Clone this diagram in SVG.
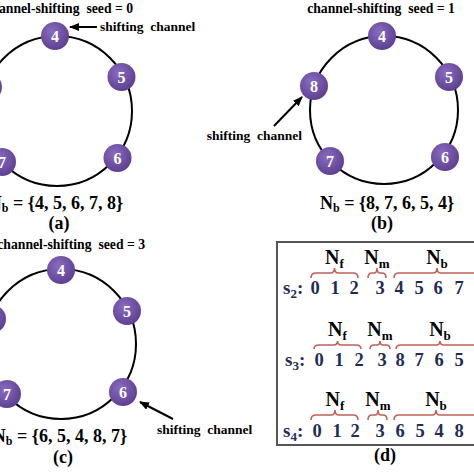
<svg xmlns="http://www.w3.org/2000/svg" width="474" height="474" viewBox="0 0 474 474">
<defs>
<radialGradient id="ng" cx="0.4" cy="0.35" r="0.7">
<stop offset="0" stop-color="#8a6cbe"/>
<stop offset="1" stop-color="#5a3d8e"/>
</radialGradient>
<marker id="ah" markerWidth="10" markerHeight="8" refX="9" refY="4" orient="auto" markerUnits="userSpaceOnUse">
<path d="M0,0 L10,4 L0,8 Z" fill="#000"/>
</marker>
</defs>
<style>
text{font-family:"Liberation Serif","Times New Roman",serif;font-weight:bold}
.ring{fill:none;stroke:#000;stroke-width:2}
.arr{stroke:#000;stroke-width:2;marker-end:url(#ah)}
.node circle{fill:url(#ng)}
.node text{fill:#fff;font-size:16px;text-anchor:middle}
.ttl{font-size:13.7px;fill:#000}
.sc{font-size:13.5px;fill:#000}
.nb{font-size:18px;fill:#000}
.lbl{font-size:18px;fill:#000;text-anchor:middle}
.dg{font-size:18.5px;fill:#1f2d55;text-anchor:middle}
.sl{font-size:19px;fill:#1f2d55}
.nl{font-size:20px;fill:#000;text-anchor:middle}
.br{fill:none;stroke:#c0605c;stroke-width:1.6}
.box{fill:#fff;stroke:#555;stroke-width:2}
</style>

<g id="connectors">
<circle class="ring" cx="57" cy="111" r="75"/>
<circle class="ring" cx="384" cy="110" r="74"/>
<circle class="ring" cx="61" cy="344" r="75"/>
<line class="arr" x1="97" y1="27" x2="70" y2="27"/>
<line class="arr" x1="274" y1="126" x2="302" y2="97"/>
<line class="arr" x1="173" y1="419" x2="140" y2="402"/>
</g>

<g id="panel-a">
<text class="ttl" x="133" y="13" text-anchor="end" xml:space="preserve">channel-shifting  seed = 0</text>
<g id="a-n4" class="node"><circle cx="55" cy="36" r="14"/><text x="55" y="42">4</text></g>
<g id="a-n5" class="node"><circle cx="121.5" cy="77" r="14"/><text x="121.5" y="83">5</text></g>
<g id="a-n6" class="node"><circle cx="117.5" cy="158" r="14"/><text x="117.5" y="164">6</text></g>
<g id="a-n7" class="node"><circle cx="2" cy="162" r="14"/><text x="2" y="168">7</text></g>
<g id="a-n8" class="node"><circle cx="-12" cy="87" r="14"/><text x="-12" y="93">8</text></g>
<text class="sc" x="100" y="31" xml:space="preserve">shifting  channel</text>
<text class="nb" x="123" y="209" text-anchor="end">N<tspan font-size="12" dy="3">b</tspan><tspan dy="-3"> = {4, 5, 6, 7, 8}</tspan></text>
<text class="lbl" x="59" y="229">(a)</text>
</g>

<g id="panel-b">
<text class="ttl" x="381" y="13" text-anchor="middle" xml:space="preserve">channel-shifting  seed = 1</text>
<g id="b-n4" class="node"><circle cx="382" cy="36" r="14"/><text x="382" y="42">4</text></g>
<g id="b-n5" class="node"><circle cx="449" cy="77" r="14"/><text x="449" y="83">5</text></g>
<g id="b-n6" class="node"><circle cx="445" cy="157" r="14"/><text x="445" y="163">6</text></g>
<g id="b-n7" class="node"><circle cx="330" cy="161" r="14"/><text x="330" y="167">7</text></g>
<g id="b-n8" class="node"><circle cx="314" cy="86" r="14"/><text x="314" y="92">8</text></g>
<text class="sc" x="302" y="140" text-anchor="end" xml:space="preserve">shifting  channel</text>
<text class="nb" x="320" y="209">N<tspan font-size="12" dy="3">b</tspan><tspan dy="-3"> = {8, 7, 6, 5, 4}</tspan></text>
<text class="lbl" x="382" y="229">(b)</text>
</g>

<g id="panel-c">
<text class="ttl" x="145" y="249" text-anchor="end" xml:space="preserve">channel-shifting  seed = 3</text>
<g id="c-n4" class="node"><circle cx="61" cy="270" r="14"/><text x="61" y="276">4</text></g>
<g id="c-n5" class="node"><circle cx="127" cy="311" r="14"/><text x="127" y="317">5</text></g>
<g id="c-n6" class="node"><circle cx="123" cy="392" r="14"/><text x="123" y="398">6</text></g>
<g id="c-n7" class="node"><circle cx="7" cy="394" r="14"/><text x="7" y="400">7</text></g>
<g id="c-n8" class="node"><circle cx="-8" cy="319" r="14"/><text x="-8" y="325">8</text></g>
<text class="sc" x="157" y="434" xml:space="preserve">shifting  channel</text>
<text class="nb" x="127" y="442" text-anchor="end">N<tspan font-size="12" dy="3">b</tspan><tspan dy="-3"> = {6, 5, 4, 8, 7}</tspan></text>
<text class="lbl" x="63" y="463">(c)</text>
</g>

<g id="panel-d">
<rect class="box" x="277" y="242" width="210" height="203"/>
<text class="nl" x="334.5" y="264">N<tspan font-size="13" dy="4">f</tspan></text>
<text class="nl" x="377" y="264">N<tspan font-size="13" dy="4">m</tspan></text>
<text class="nl" x="437" y="264">N<tspan font-size="13" dy="4">b</tspan></text>
<path class="br" d="M311,278 Q311,273 316,273 L330.5,273 Q334.5,273 334.5,268 Q334.5,273 338.5,273 L353,273 Q358,273 358,278"/>
<path class="br" d="M368,278 Q368,273 372,273 L374,273 Q377,273 377,268 Q377,273 380,273 L382,273 Q386,273 386,278"/>
<path class="br" d="M394,278 Q394,273 399,273 L433,273 Q437,273 437,268 Q437,273 441,273 L475,273 Q480,273 480,278"/>
<text class="sl" x="283" y="294">s<tspan font-size="13" dy="4">2</tspan><tspan dy="-4">:</tspan></text>
<text class="dg" y="294"><tspan x="315">0</tspan><tspan x="335">1</tspan><tspan x="354">2</tspan><tspan x="380">3</tspan><tspan x="399">4</tspan><tspan x="419">5</tspan><tspan x="438">6</tspan><tspan x="459">7</tspan></text>
<text class="nl" x="337.5" y="336">N<tspan font-size="13" dy="4">f</tspan></text>
<text class="nl" x="380" y="336">N<tspan font-size="13" dy="4">m</tspan></text>
<text class="nl" x="440" y="336">N<tspan font-size="13" dy="4">b</tspan></text>
<path class="br" d="M314,349 Q314,345 319,345 L333.5,345 Q337.5,345 337.5,341 Q337.5,345 341.5,345 L356,345 Q361,345 361,349"/>
<path class="br" d="M370,349 Q370,345 374,345 L377,345 Q380,345 380,341 Q380,345 383,345 L386,345 Q390,345 390,349"/>
<path class="br" d="M396,349 Q396,345 401,345 L436,345 Q440,345 440,341 Q440,345 444,345 L479,345 Q484,345 484,349"/>
<text class="sl" x="285" y="366">s<tspan font-size="13" dy="4">3</tspan><tspan dy="-4">:</tspan></text>
<text class="dg" y="366"><tspan x="319">0</tspan><tspan x="339">1</tspan><tspan x="359">2</tspan><tspan x="382">3</tspan><tspan x="400">8</tspan><tspan x="419">7</tspan><tspan x="439">6</tspan><tspan x="459">5</tspan></text>
<text class="nl" x="335" y="406">N<tspan font-size="13" dy="4">f</tspan></text>
<text class="nl" x="378" y="406">N<tspan font-size="13" dy="4">m</tspan></text>
<text class="nl" x="436" y="406">N<tspan font-size="13" dy="4">b</tspan></text>
<path class="br" d="M311,420 Q311,415 316,415 L331,415 Q335,415 335,410 Q335,415 339,415 L353,415 Q358,415 358,420"/>
<path class="br" d="M368,420 Q368,415 372,415 L375,415 Q378,415 378,410 Q378,415 381,415 L383,415 Q387,415 387,420"/>
<path class="br" d="M394,420 Q394,415 399,415 L432,415 Q436,415 436,410 Q436,415 440,415 L473,415 Q478,415 478,420"/>
<text class="sl" x="283" y="437">s<tspan font-size="13" dy="4">4</tspan><tspan dy="-4">:</tspan></text>
<text class="dg" y="437"><tspan x="317">0</tspan><tspan x="337">1</tspan><tspan x="355">2</tspan><tspan x="380">3</tspan><tspan x="400">6</tspan><tspan x="420">5</tspan><tspan x="439">4</tspan><tspan x="459">8</tspan></text>
<text class="lbl" x="385" y="461">(d)</text>
</g>
</svg>
